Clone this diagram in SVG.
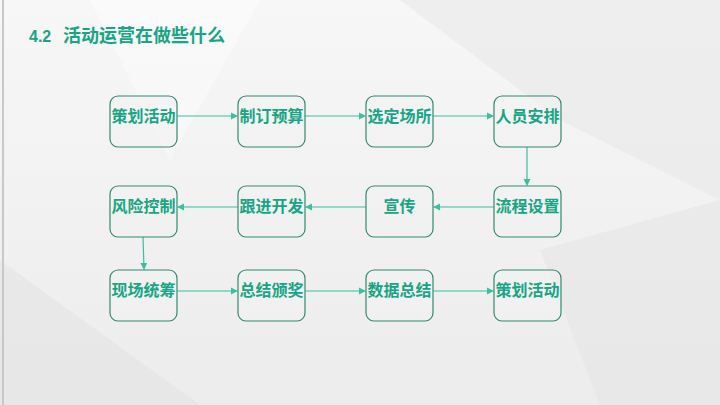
<svg xmlns="http://www.w3.org/2000/svg" width="720" height="405" viewBox="0 0 720 405">
<style>
.b{fill:#f2f2f2;fill-opacity:.6;stroke:#2e8b73;stroke-width:1.2}
.t{font-family:"Noto Sans CJK SC",sans-serif;font-weight:bold;font-size:16px;fill:#17a585;text-anchor:middle}
.c{stroke:#3cbfa0;stroke-width:1.2;fill:none;marker-end:url(#a)}
</style>
<defs>
<linearGradient id="g" x1="0" y1="0" x2="0" y2="1"><stop offset="0" stop-color="#f7f7f7"/><stop offset="1" stop-color="#ececec"/></linearGradient>
<marker id="a" viewBox="0 0 8 8" refX="7" refY="4" markerWidth="6" markerHeight="6" orient="auto"><path d="M0,0L8,4L0,8z" fill="#3cbfa0"/></marker>
</defs>
<rect width="720" height="405" fill="url(#g)"/>
<polygon points="90,0 260,0 170,160" fill="#ffffff" opacity=".35"/>
<polygon points="400,0 720,0 720,200 560,120" fill="#e6e6e6" opacity=".5"/>
<polygon points="0,260 200,405 0,405" fill="#e2e2e2" opacity=".5"/>
<polygon points="540,250 720,200 720,405 600,405" fill="#e4e4e4" opacity=".5"/>
<line x1="3" y1="0" x2="3" y2="405" stroke="#c8c8c8" stroke-width="2"/>
<text x="29" y="42" font-family="Liberation Sans,sans-serif" font-weight="bold" font-size="16" fill="#17a585">4.2</text>
<text x="63" y="42" font-family="Noto Sans CJK SC,sans-serif" font-weight="bold" font-size="18" fill="#17a585">活动运营在做些什么</text>
<g id="connectors">
<line class="c" x1="177" y1="116" x2="237" y2="116"/>
<line class="c" x1="305" y1="116" x2="365" y2="116"/>
<line class="c" x1="433" y1="116" x2="493" y2="116"/>
<line class="c" x1="527" y1="147" x2="527" y2="185"/>
<line class="c" x1="494" y1="207" x2="434" y2="207"/>
<line class="c" x1="366" y1="207" x2="306" y2="207"/>
<line class="c" x1="238" y1="207" x2="178" y2="207"/>
<line class="c" x1="143" y1="237" x2="144" y2="269"/>
<line class="c" x1="177" y1="291" x2="237" y2="291"/>
<line class="c" x1="305" y1="291" x2="365" y2="291"/>
<line class="c" x1="433" y1="291" x2="493" y2="291"/>
</g>
<g id="n1"><rect class="b" x="110" y="96" width="67" height="51" rx="8"/><text class="t" x="143.5" y="122">策划活动</text></g>
<g id="n2"><rect class="b" x="238" y="96" width="67" height="51" rx="8"/><text class="t" x="271.5" y="122">制订预算</text></g>
<g id="n3"><rect class="b" x="366" y="96" width="67" height="51" rx="8"/><text class="t" x="399.5" y="122">选定场所</text></g>
<g id="n4"><rect class="b" x="494" y="96" width="67" height="51" rx="8"/><text class="t" x="527.5" y="122">人员安排</text></g>
<g id="n5"><rect class="b" x="494" y="186" width="67" height="51" rx="8"/><text class="t" x="527.5" y="212">流程设置</text></g>
<g id="n6"><rect class="b" x="366" y="186" width="67" height="51" rx="8"/><text class="t" x="399.5" y="212">宣传</text></g>
<g id="n7"><rect class="b" x="238" y="186" width="67" height="51" rx="8"/><text class="t" x="271.5" y="212">跟进开发</text></g>
<g id="n8"><rect class="b" x="110" y="186" width="67" height="51" rx="8"/><text class="t" x="143.5" y="212">风险控制</text></g>
<g id="n9"><rect class="b" x="110" y="270" width="67" height="51" rx="8"/><text class="t" x="143.5" y="296">现场统筹</text></g>
<g id="n10"><rect class="b" x="238" y="270" width="67" height="51" rx="8"/><text class="t" x="271.5" y="296">总结颁奖</text></g>
<g id="n11"><rect class="b" x="366" y="270" width="67" height="51" rx="8"/><text class="t" x="399.5" y="296">数据总结</text></g>
<g id="n12"><rect class="b" x="494" y="270" width="67" height="51" rx="8"/><text class="t" x="527.5" y="296">策划活动</text></g>
</svg>
